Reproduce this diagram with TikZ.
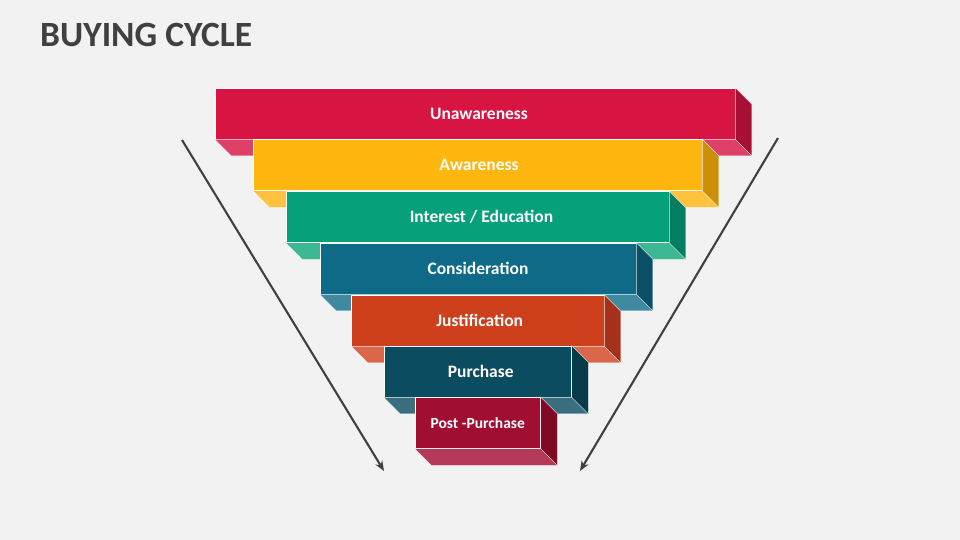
\documentclass[tikz,border=0pt]{standalone}
\usepackage{fontspec}
\setmainfont{Carlito}
\usepackage{tikz}
\usetikzlibrary{arrows.meta}
\definecolor{fond}{HTML}{F2F2F2}
\definecolor{titre}{HTML}{404040}
\definecolor{unF}{HTML}{D81442}\definecolor{unS}{HTML}{A80F35}\definecolor{unB}{HTML}{DE4068}
\definecolor{awF}{HTML}{FFB60F}\definecolor{awS}{HTML}{CC8F08}\definecolor{awB}{HTML}{FFC23D}
\definecolor{inF}{HTML}{06A07A}\definecolor{inS}{HTML}{047E60}\definecolor{inB}{HTML}{3CB894}
\definecolor{coF}{HTML}{0F6A87}\definecolor{coS}{HTML}{0A5168}\definecolor{coB}{HTML}{3E8AA0}
\definecolor{juF}{HTML}{CE3F1B}\definecolor{juS}{HTML}{A5311A}\definecolor{juB}{HTML}{DB6649}
\definecolor{puF}{HTML}{0B4C60}\definecolor{puS}{HTML}{073A4A}\definecolor{puB}{HTML}{3A6F80}
\definecolor{ppF}{HTML}{A00F32}\definecolor{ppS}{HTML}{7E0A26}\definecolor{ppB}{HTML}{B43A58}
\tikzstyle{face}=[
        rectangle,
        draw=white,
        line width=0.6pt,
        inner sep=0pt,
        minimum height=51pt,
        text=white,
        font=\bfseries\fontsize{17.5}{20}\selectfont
]
\tikzstyle{cote}=[draw=white,line width=0.3pt]
\tikzstyle{fleche}=[-{Stealth[length=10pt,width=8pt]},line width=2.1pt,draw=titre]
% faces laterales et du dessous
\newcommand{\faces}[3]{%
  \filldraw[cote,fill=#3] (#1.south west) -- ++(16.5,16.5) -- ([shift={(16.5,16.5)}]#1.south east) -- (#1.south east) -- cycle;
  \filldraw[cote,fill=#2] (#1.north east) -- ++(16.5,16.5) -- ([shift={(16.5,16.5)}]#1.south east) -- (#1.south east) -- cycle;
}
\begin{document}
\begin{tikzpicture}[x=1pt,y=-1pt]
\fill[fond] (0,0) rectangle (960,540);
\node[anchor=base west,text=titre,font=\bfseries\fontsize{35.5}{40}\selectfont,inner sep=0pt] (titre) at (40,47) {BUYING CYCLE};
%les etages
\node[face,fill=unF,minimum width=520pt] (unaware) at (475,113.5) {\hspace*{8pt}Unawareness};
\faces{unaware}{unS}{unB}
\node[face,fill=awF,minimum width=449pt] (aware) at (477.5,165) {\hspace*{3pt}Awareness};
\faces{aware}{awS}{awB}
\node[face,fill=inF,minimum width=383pt] (interest) at (477.5,217) {\hspace*{8pt}Interest / Education};
\faces{interest}{inS}{inB}
\node[face,fill=coF,minimum width=316pt] (consider) at (478,268.5) {Consideration};
\faces{consider}{coS}{coB}
\node[face,fill=juF,minimum width=252.5pt] (justif) at (477.75,320.5) {\hspace*{4pt}Justification};
\faces{justif}{juS}{juB}
\node[face,fill=puF,minimum width=187.5pt] (purchase) at (477.75,371.5) {\hspace*{6pt}Purchase};
\faces{purchase}{puS}{puB}
\node[face,fill=ppF,minimum width=125.5pt,font=\bfseries\fontsize{15.5}{18}\selectfont] (postpurch) at (477.75,423) {Post -Purchase};
\faces{postpurch}{ppS}{ppB}
%les fleches
\coordinate (lstart) at (182,140);
\coordinate (lend) at (384,471);
\coordinate (rstart) at (778,138);
\coordinate (rend) at (580,471);
\draw[fleche] (lstart) -- (lend);
\draw[fleche] (rstart) -- (rend);
\end{tikzpicture}
\end{document}
